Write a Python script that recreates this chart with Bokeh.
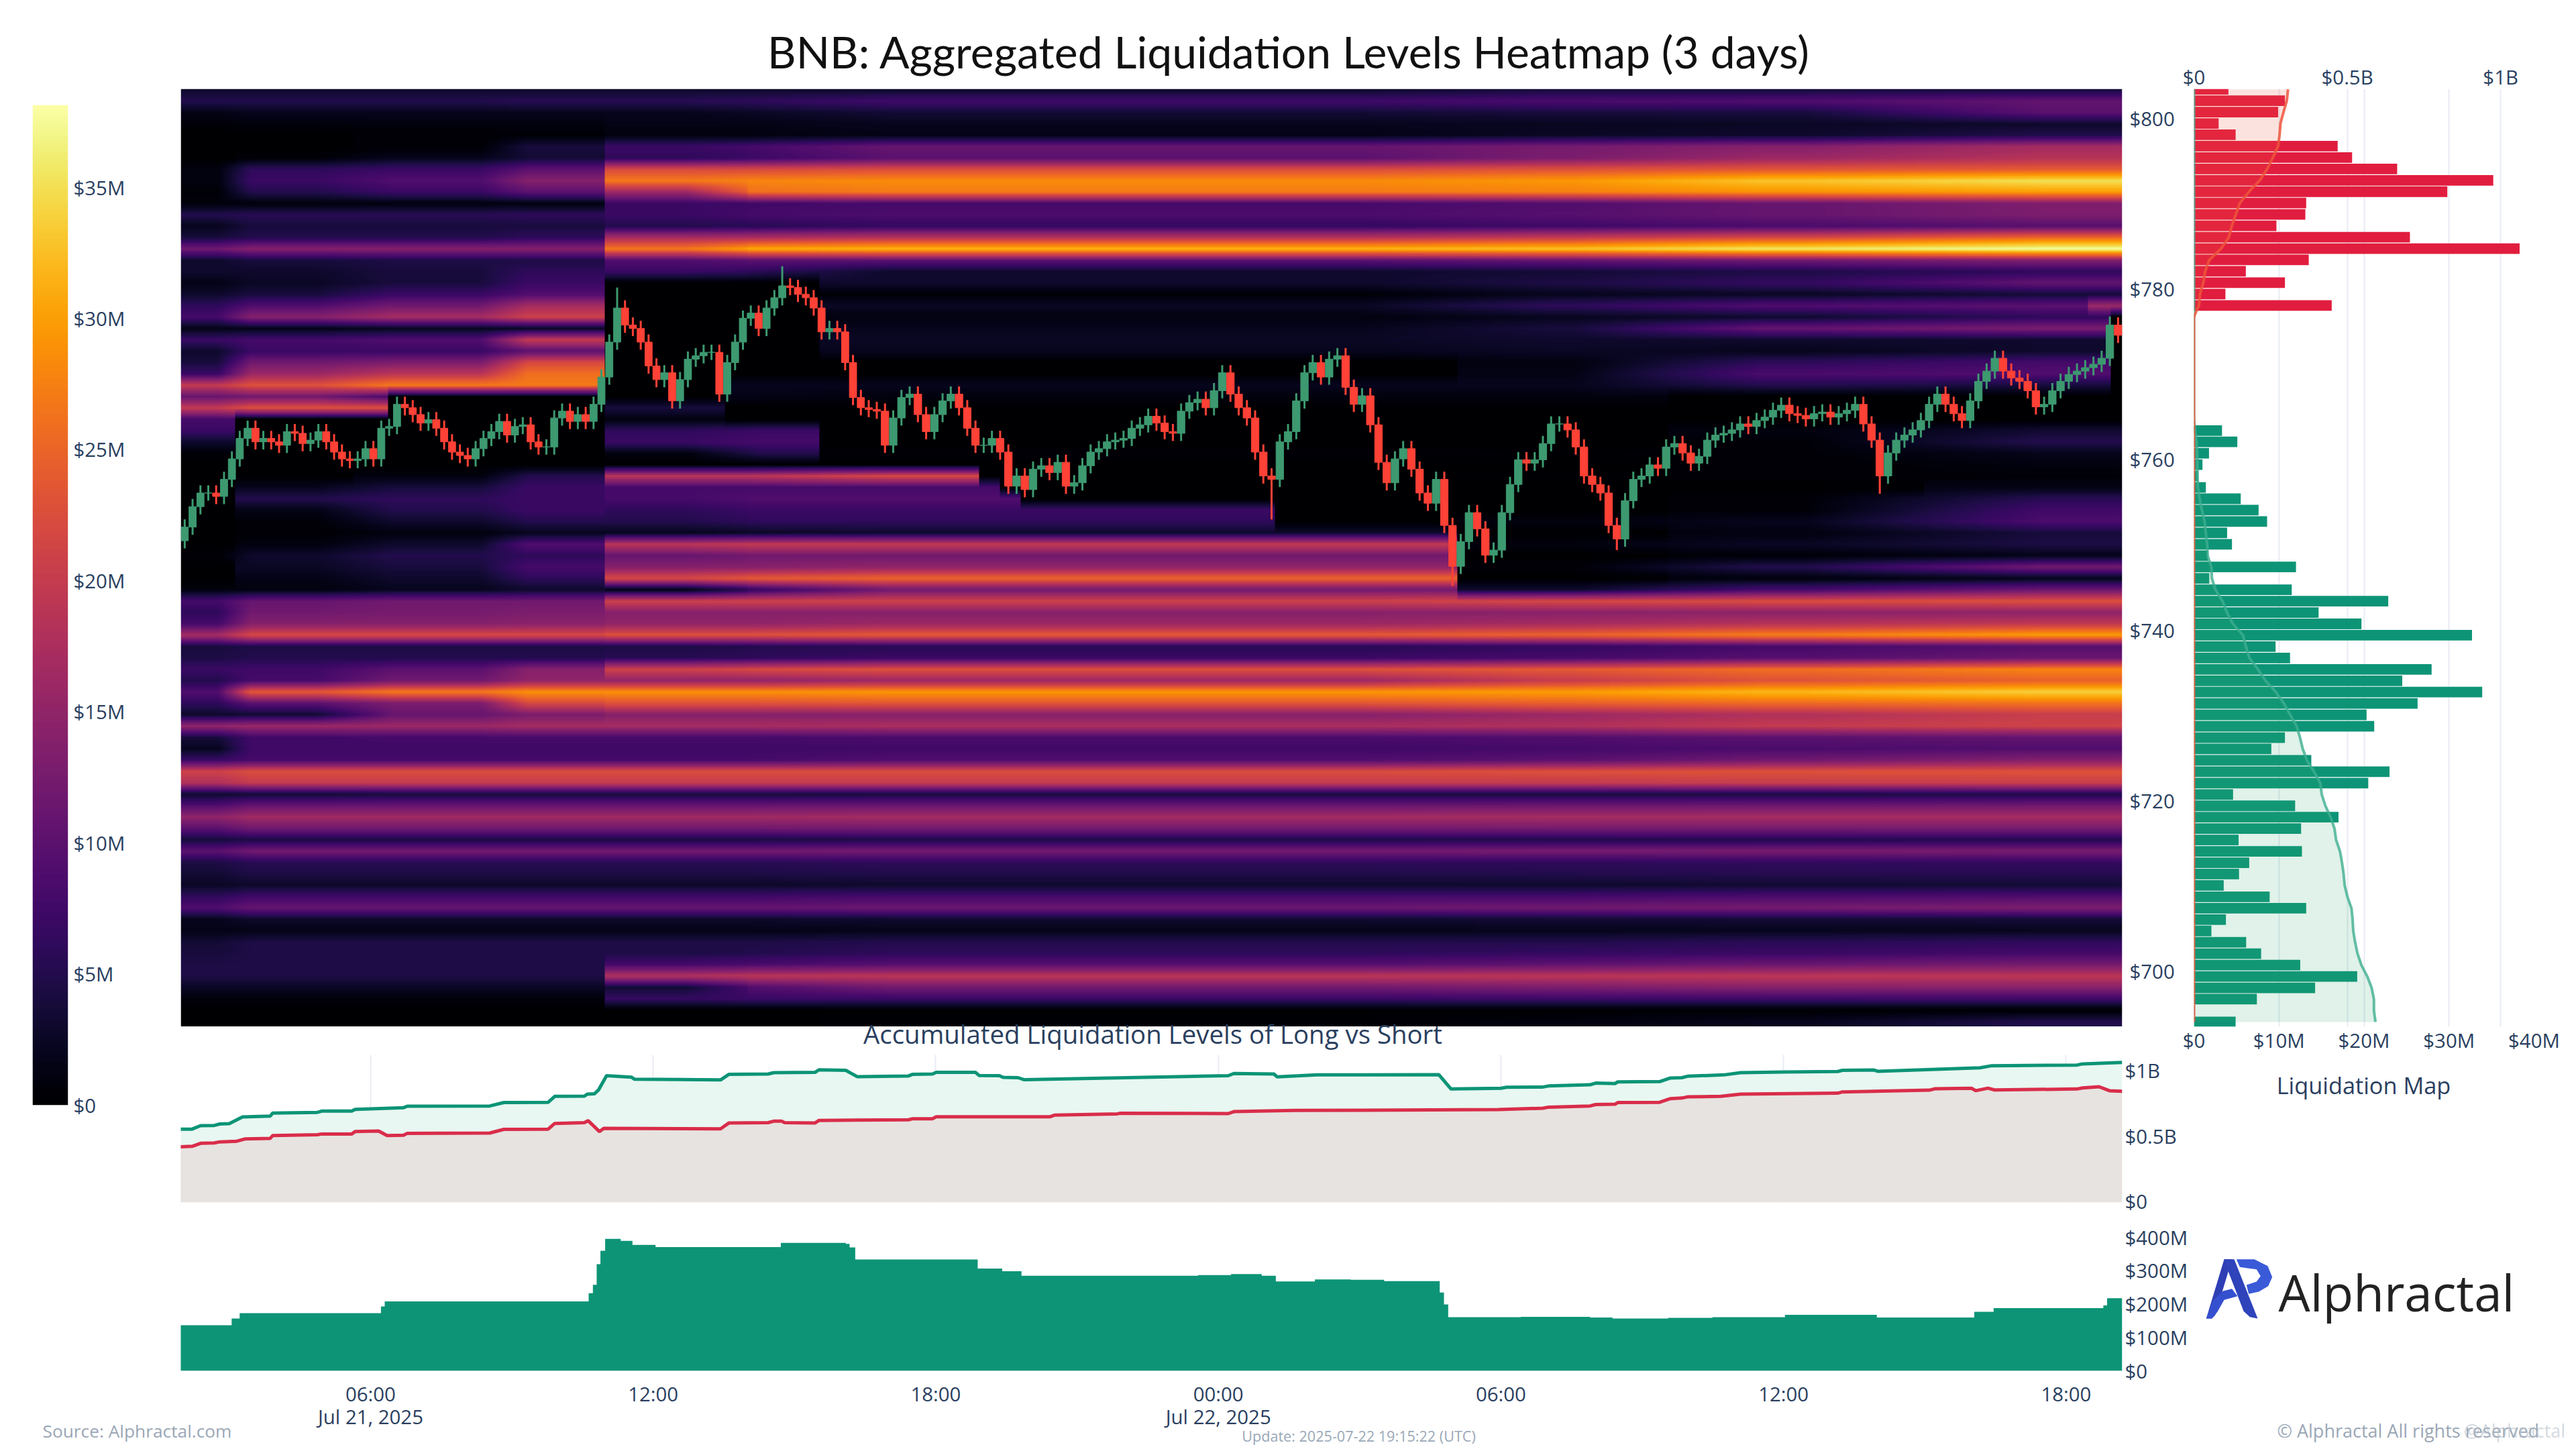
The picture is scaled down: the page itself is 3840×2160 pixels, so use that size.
import numpy as np
from bokeh.plotting import figure
from bokeh.layouts import row, column
from bokeh.models import Range1d, LinearColorMapper, FixedTicker, Label, LinearAxis, Grid, Spacer
from bokeh.palettes import Inferno256
from bokeh.embed import file_html
from bokeh.resources import INLINE

# ---------- data ----------
time_start, time_end = 1.97, 43.19          # hours after Jul 21 2025 00:00
price_low, price_high = 693.5, 803.5
bin_first, bin_step = 694.06, 1.334
z_max = 38.15

# heatmap: time column edges (hours)
col_edges = [1.97, 3.09, 5.64, 8.82, 10.96, 13.49, 15.5, 29.05, 33.55, 38.98, 43.19]
# gradual changes of the levels around these column edges: hour, half width
soft_edges = [(3.09, 0.35), (5.64, 0.8), (8.82, 0.5), (13.49, 0.8), (15.5, 1.5), (29.05, 2.0), (33.55, 2.0), (38.98, 2.5)]
# value in $M per column; first line = top price bin (82), last line = bottom bin (0)
heat_rows = [
 [3,3,3,3,3,3,3,4,4,4],
 [5,5,5,5.5,5.5,6,7.5,8.5,9,10.7],
 [1.5,2,2,2,2,2.5,3.5,4,4,9.9],
 [.5,.8,1,1,1.5,1.5,2,2.2,2.5,2.9],
 [0,0,.3,.5,1,1,1.5,2.5,3,4.9],
 [0,0,.3,4,7,8,11,12.5,14,16.9],
 [0,.5,2,3.5,6,7,10,13,16,18.6],
 [1,6,7,10,22,22,22.5,23,23.5,23.9],
 [1,7,9,14,27,28,28.5,29.5,33,35.2],
 [.5,5,7,10,16,26,27,27.5,29,29.8],
 [.8,.8,1,1,7,7.5,8,9,11,13.2],
 [5,5.5,5.5,6,7,8,8.5,9.5,11,13.1],
 [2,4,4,4,5,5.5,6.5,7.5,8.5,9.7],
 [4,5,5,6,17,17.5,18.5,20,22,25.4],
 [12,14,14,14,27,31,32,33,36,38.1],
 [3,4,4.5,4.5,9,10,10,11,12,13.5],
 [3,3,4,6,7,6,3,3.5,4.5,6.1],
 [1.5,2.5,4,7,0,0,3,4.5,6.5,10.7],
 [3,4,7,9,0,0,.5,2,2.5,3.7],
 [6,9,12,17,0,0,2.5,6,9,10],
 [8,14,17,21,0,0,1,2,3,6],
 [1.5,1.5,2,2,0,0,2,4,11,13],
 [7,8,9,20,0,0,2.5,3,3,3],
 [3,7,7,10,0,0,2,2.5,2,3],
 [4,12,13,22,0,0,0,1,6,8],
 [7,16,19,26,0,0,0,1.5,8.5,9],
 [20,23,27,27,0,2,2,2,5,4],
 [11,12,8,0,0,1.5,1,1,0,0],
 [20,23,23,0,4,0,0,0,0,0],
 [8,0,0,0,1,0,0,0,0,0],
 [7,0,0,0,6,7,0,0,1,3.3],
 [3,0,0,0,7,8,0,0,.5,5.1],
 [.5,0,0,0,1,5,.5,.3,.5,1.77],
 [0,0,0,0,0,0,0,0,.3,1],
 [0,0,1,5,19,19,22,.3,.4,.5],
 [0,2,4,7,8,8,8,0,0,1.4],
 [0,5,6,7,8,9,9,0,.5,5.5],
 [0,1.5,5,7,6,7,7,0,.5,7.6],
 [0,.5,3,5,5,6,6,1,2,8.6],
 [0,.3,1,2,2,2.5,3,0,1,3.9],
 [0,1,3,9,19,20,20,1,2.5,4.47],
 [.5,3,5,6,11,12,12,0,.5,1.64],
 [0,2.5,4,8,14,14,15,.5,5,12],
 [0,1.5,3,6,22,24,25,0,.8,1.8],
 [1,1,2,3,1,6,12,3,8,11.5],
 [8,11,12,12,21,21,21,22,22.5,22.85],
 [6,12,12.5,13,14,14,14,14.3,14.5,14.66],
 [8,14,14,14.5,15,15,16,17,18.5,19.7],
 [17,22,22,22,23,23,24,25,27.5,30],
 [4,4.5,4.5,4.5,4.5,5,5.5,6.5,8,9.6],
 [4.5,5,5,5,5.5,6,7,8,9.5,11.3],
 [7,7.5,10,14,21,22,23,24,26,27.95],
 [5,8,12,15,15,15,16,20,23,24.5],
 [9,24,27,29,29,29,29.5,30,32,33.9],
 [6,10,13,22,23,23,23.5,24.5,25.5,26.3],
 [3,3.5,11,13,14,14,14,16,18,20.3],
 [15,16,16,17,17,17,17.5,18,20,21.2],
 [4,7.5,8,8,8,8,8.5,9,10,10.7],
 [2,7.5,7.5,7.5,7.5,7.5,7.5,8,8.5,9.1],
 [7,8,8,8,8,8,9,10,12,13.8],
 [21,22.5,22.5,22.5,22.5,22.5,22.5,22.8,23,23],
 [18,20,20,20,20,20,20,20,20.3,20.5],
 [3,3.5,4,4,4,4,4,4,4.3,4.6],
 [9,11,11,11,11,11,11.3,11.5,11.7,11.9],
 [15,16.5,16.5,16.5,16.5,16.5,16.8,17,17,17],
 [10,12,12,12,12,12,12.3,12.5,12.6,12.6],
 [4,4.5,4.5,4.5,4.5,4.5,4.8,5,5,5.25],
 [10,12,12,12,12,12,12.3,12.5,12.6,12.7],
 [4.5,5.5,5.5,5.5,5.5,5.5,6,6,6.3,6.5],
 [3.5,4.5,4.5,4.5,4.5,4.5,4.8,5,5.2,5.3],
 [2.5,2.8,2.8,2.8,2.8,2.8,3,3,3.3,3.5],
 [6,7.5,7.5,7.5,7.5,7.5,8,8,8.5,8.9],
 [9,11,11,11,11,11,11.5,12,12.5,13.2],
 [2,3,3,3,3,3,3.2,3.5,3.5,3.76],
 [1.5,1.5,1.5,1.5,1.5,1.5,1.7,1.8,2,2.05],
 [3.5,4.5,4.5,4.5,4.5,4.5,5,5,5.5,6.14],
 [4,4.5,4.5,4.5,4.5,5,6,6.5,7,7.9],
 [4.5,4.5,4.5,4.5,8,8.5,9.5,10.5,11.5,12.5],
 [4.5,4.5,4.5,4.5,18,19,19,19,19.2,19.2],
 [2.5,2.5,2.5,2.5,3.5,9,12,13,14,14.25],
 [.8,.8,.8,.8,6.5,7,7,7.2,7.3,7.4],
 [0,0,0,0,0,0,.1,.1,.1,.1],
 [0,0,0,0,0,0,.3,1,2,4.9],
]
# rectangles that differ from the table: low bin, high bin, from hour, to hour, value
heat_blocks = [
 (54,55,6.34,8.82,0),(48,48,18.89,29.05,0),(47,47,19.36,29.05,0),(46,46,19.79,29.05,0),
 (44,45,25.2,29.05,0),(53,62,42.94,43.19,0),(63,63,42.47,43.19,16.2),
]

# candles: closes by stretch of time
close_a = [752.1,754.5,756.1,756.1,755.7,757.7,760.1,762.5,763.7,762.1,762.5,762.1,761.7,763.3,763.1,761.9,762.3,763.3,762.1,760.9,
 760.1,759.9,760.1,761.3,760.1,763.7,763.9,766.5,766.1,765.3,764.3,764.7,763.7,762.1,760.9,760.5,760.1,761.3,762.5,763.3,
 764.5,762.9,763.9,764.1,762.1,761.5,761.5,764.9,765.7,764.5,765.3,764.5,766.5,769.7,773.8,777.8,775.8,775.4,773.8,771,
 769.4,770.2,766.9,769.4,771.8,772.2,772.6,772.6,767.7,771.4,773.8,776.6,777.2,775.4,777.8,779,780.4,780.2,779.4,779,
 777.8,775,775.4,775,771.4,767.3,766.1,765.9]
close_b = [765.7,761.7,764.9,767.3,767.7,765.3,763.3,765.3,766.9,767.7,766.1,763.7,761.7,761.7,762.5,760.9,756.9,758.1,756.5,758.9,
 759.3,758.5,759.7,756.9,757.3,759.3,760.9,761.3,762.1,762.3,762.5,763.7,764.1,765.1,764.3,763.3,763.1,765.7,766.7,767.1,
 766.1,768.1,770.2,767.7,766.1,764.9,760.9,758.1,757.7,762.1,763.3,766.9,770.2,771.4,769.7,771.8,772.2,768.5,766.5,767.5,
 764.1,759.7,757.3,760.1,761.3,758.9,756.1,754.9,757.7]
close_c = [752.3,747.5,750.4,753.8,751.9,748.8,749.4,753.8,757.1,760,759.6,760,761.9,764.2,764.2,763.5,761.5,758.1,757.1,756.1,
 752.3,750.7,755.2,757.7,758.1,759.4,759,761.5,761.9,760.8,759.6,760.4,762.3,762.9,763.1,763.5,764.2,763.9,764.6,765,
 765.8,766.4,765.4,765.2,764.8,765.4,765.6,765,765.4,765.8,766.5,764.2,762.3,758.1,760.8,762.3,762.9,763.5,764.6,766.5,
 767.7,766.5,765.4,764.6,766.9,769.2,770.4,771.9,770.4,769.6,769.2,768.1,766.2,766.5,768.1,769.2,770,770.4,770.8,771.2,
 771.9,775.8,774.6]
open_first = 750.5
stretch_edges = [1.97, 16.66, 28.71, 43.19]
wick_default = 0.9
high_a, high_c = {76: 782.7, 55: 780.2}, {81: 776.8}
low_b, low_c = {48: 753.0}, {1: 745.2, 21: 749.4, 53: 756.0}

# liquidation map bars ($M), top to bottom
short_bars = [4.05,10.7,9.9,2.9,4.9,16.9,18.6,23.9,35.2,29.8,13.2,13.1,9.7,25.4,38.3,13.5,6.1,10.7,3.7,16.2]
long_bars = [3.3,5.1,1.77,1.0,.5,1.4,5.5,7.6,8.6,3.9,4.47,1.64,12,1.8,11.5,22.85,14.66,19.7,32.7,9.6,
 11.3,27.95,24.5,33.9,26.3,20.3,21.2,10.7,9.1,13.8,23,20.5,4.6,11.9,17,12.6,5.25,12.7,6.5,5.3,
 3.5,8.9,13.2,3.76,2.05,6.14,7.9,12.5,19.2,14.25,7.4,.1,4.9]
# running totals ($B), top to bottom
short_total = [.30675,.3027,.292,.2821,.2792,.2743,.2574,.2388,.2149,.1797,.1499,.1367,.1236,.1139,.0885,.0502,.0367,.0306,.0199,.0162]
long_total = [.0033,.0084,.01017,.01117,.01167,.01307,.01857,.02617,.03477,.03867,.04314,.04478,.05678,.05858,.07008,.09293,.1076,.1273,.16,.1696,
 .1809,.20885,.23335,.26725,.29355,.31385,.33505,.34575,.35485,.36865,.39165,.41215,.41675,.42865,.44565,.45825,.4635,.4762,.4827,.488,
 .4915,.5004,.5136,.51736,.51941,.52555,.53345,.54595,.56515,.5794,.5868,.5869,.5918]

# accumulated long / short ($B)
long_h = [1.96,2.21,2.39,2.68,2.80,3.0,3.28,3.87,3.92,4.87,4.96,5.60,5.67,6.70,6.78,8.53,8.83,9.77,9.91,10.54,10.6,10.75,10.84,11.01,11.54,11.60,13.43,13.61,14.44,14.56,15.44,15.52,16.09,16.33,
 17.42,17.51,17.93,18.01,18.84,18.92,19.35,19.43,19.75,19.87,23.80,24.21,24.33,25.18,25.25,26.10,28.68,28.94,30.0,30.12,30.89,31.01,31.89,32.01,32.42,32.48,33.37,33.60,33.84,33.96,34.73,
 35.09,36.03,37.15,37.25,37.92,38.0,40.17,40.40,42.23,42.35,43.19]
long_v = [.558,.558,.584,.586,.597,.599,.650,.657,.680,.685,.695,.695,.708,.721,.732,.734,.760,.762,.807,.809,.824,.826,.856,.964,.953,.938,.932,.975,.977,.987,.990,1.009,1.005,.957,
 .962,.975,.977,.990,.990,.966,.964,.951,.949,.934,.962,.964,.981,.977,.955,.970,.972,.863,.869,.876,.878,.886,.895,.908,.904,.917,.919,.947,.949,.960,.970,
 .987,.992,.996,1.005,1.007,.998,1.024,1.039,1.045,1.054,1.065]
short_h = [1.96,2.21,2.39,2.68,2.80,3.16,3.33,3.87,3.92,4.87,4.96,5.60,5.67,6.17,6.35,6.70,6.78,8.53,8.83,9.77,9.91,10.54,10.62,10.86,10.95,13.43,13.61,14.44,14.56,14.73,14.79,15.44,15.52,
 17.42,17.51,17.93,18.01,20.43,20.53,21.85,21.91,24.21,24.33,25.63,29.94,30.89,31.01,31.89,32.01,32.42,32.48,33.37,33.60,33.84,33.96,34.67,
 35.09,37.15,37.25,39.10,39.22,39.99,40.08,40.34,40.48,42.23,42.35,42.70,42.92,43.19]
short_v = [.423,.427,.450,.453,.461,.466,.483,.487,.509,.515,.521,.521,.539,.543,.509,.511,.526,.528,.556,.558,.601,.607,.622,.539,.564,.560,.605,.607,.618,.618,.607,.605,.624,
 .629,.637,.637,.652,.652,.665,.674,.678,.676,.691,.700,.706,.717,.725,.734,.745,.747,.760,.762,.790,.794,.803,.807,
 .824,.831,.841,.854,.865,.869,.850,.869,.856,.863,.871,.880,.850,.846]

# long minus short ($M), stepped
gap_edges = [1.96,3.05,3.22,6.22,6.30,10.63,10.72,10.80,10.88,10.98,11.31,11.56,12.05,14.71,16.09,16.17,16.29,18.89,19.41,19.82,23.57,24.27,24.92,25.22,26.05,26.81,27.52,28.70,28.79,28.88,30.42,31.89,32.37,33.55,34.49,36.03,37.98,40.05,40.46,42.79,42.87,43.19]
gap_vals = [137,157,173,193,208,233,258,320,360,396,390,378,371,384,381,370,334,307,299,285,287,290,285,268,274,273,269,235,199,161,162,160,157,159,161,168,160,177,188,196,218]

# axis labels
time_ticks = {6:"06:00\nJul 21, 2025",12:"12:00",18:"18:00",24:"00:00\nJul 22, 2025",30:"06:00",36:"12:00",42:"18:00"}
price_ticks = {700:"$700",720:"$720",740:"$740",760:"$760",780:"$780",800:"$800"}
scale_ticks = {0:"$0",5:"$5M",10:"$10M",15:"$15M",20:"$20M",25:"$25M",30:"$30M",35:"$35M"}
map_ticks = {0:"$0",10:"$10M",20:"$20M",30:"$30M",40:"$40M"}
total_ticks = {0:"$0",0.5:"$0.5B",1:"$1B"}
acc_ticks = {0:"$0",0.5:"$0.5B",1:"$1B"}
gap_ticks = {0:"$0",100:"$100M",200:"$200M",300:"$300M",400:"$400M"}

INK = "#2a3f5f"; FONT = "Open Sans"; GRID = "#e8ebf2"
GREEN = "#0d9477"; CRIMSON = "#e11d3f"

def style_axis(ax, ticks, standoff=8, size="29.4px"):
    ax.ticker = FixedTicker(ticks=list(ticks))
    ax.major_label_overrides = dict(ticks)
    ax.major_tick_line_color = None
    ax.minor_tick_line_color = None
    ax.axis_line_color = None
    ax.major_label_text_color = INK
    ax.major_label_text_font = FONT
    ax.major_label_text_font_size = size
    ax.major_label_standoff = standoff

def blank(width, height, x_range, y_range, left=0, right=0, top=0, bottom=0, **kw):
    p = figure(width=width, height=height, x_range=x_range, y_range=y_range,
               min_border_left=left, min_border_right=right, min_border_top=top, min_border_bottom=bottom,
               output_backend="svg", toolbar_location=None, outline_line_color=None,
               border_fill_color=None, background_fill_color=None, **kw)
    p.xgrid.visible = False
    p.ygrid.visible = False
    return p

def note(p, x, y, text, size, color=INK, align="left", font=FONT, alpha=1.0):
    p.add_layout(Label(x=x, y=y, text=text, text_font=font, text_font_size=size, text_color=color,
                       text_align=align, text_baseline="middle", text_alpha=alpha))

mapper = LinearColorMapper(palette=Inferno256, low=0, high=z_max)

# ---------- colour scale ----------
cb = blank(269, 2160, Range1d(0, 1), Range1d(0, z_max), left=48, right=168, top=156, bottom=513, y_axis_location="right")
cb.xaxis.visible = False
cb.image(image=[np.linspace(0, z_max, 512).reshape(-1, 1)], x=0, y=0, dw=1, dh=z_max, color_mapper=mapper)
style_axis(cb.yaxis[0], scale_ticks, standoff=2)

# ---------- heatmap ----------
times = np.arange(time_start, time_end, 0.04)
bin_prices = bin_first + bin_step * np.arange(len(heat_rows))
table = np.array(heat_rows[::-1], dtype=float)            # bin 0 first
cols = np.clip(np.searchsorted(col_edges, times, side="right") - 1, 0, table.shape[1] - 1)
cells = table[:, cols]
for h, half in soft_edges:
    c = col_edges.index(h)
    near = np.abs(times - h) <= half
    both = (table[:, c - 1] > 0) & (table[:, c] >= 0.5 * table[:, c - 1])
    frac = (times[near] - (h - half)) / (2 * half)
    cells[np.ix_(both, near)] = np.outer(table[both, c - 1], 1 - frac) + np.outer(table[both, c], frac)
for k0, k1, h0, h1, v in heat_blocks:
    cells[k0:k1 + 1, (times >= h0) & (times <= h1)] = v
fine_prices = np.linspace(price_low, price_high, 900)
smooth = np.vstack([np.interp(fine_prices, bin_prices, cells[:, j]) for j in range(cells.shape[1])]).T

heat = blank(3001, 1530, Range1d(time_start, time_end), Range1d(price_low, price_high),
             right=107, top=132, y_axis_location="right")
heat.xaxis.visible = False
heat.image(image=[smooth], x=time_start, y=price_low, dw=time_end - time_start, dh=price_high - price_low,
           color_mapper=mapper)
style_axis(heat.yaxis[0], price_ticks, standoff=5)

hours, closes, opens, highs, lows, steps = [], [], [], [], [], []
prev = open_first
stretches = [(close_a, high_a, {}), (close_b, {}, low_b), (close_c, high_c, low_c)]
for i, (cl, hi, lo) in enumerate(stretches):
    span = (stretch_edges[i + 1] - stretch_edges[i]) / len(cl)
    for j, c in enumerate(cl):
        hours.append(stretch_edges[i] + (j + 0.5) * span)
        steps.append(span * 0.92)
        opens.append(prev); closes.append(c)
        highs.append(hi.get(j, max(prev, c) + wick_default))
        lows.append(lo.get(j, min(prev, c) - wick_default))
        prev = c
hours, opens, closes, highs, lows = map(np.array, (hours, opens, closes, highs, lows))
ccol = np.where(closes >= opens, "#3d9970", "#ff4136")
heat.segment(hours, lows, hours, highs, color=ccol, line_width=3)
heat.vbar(x=hours, width=steps, bottom=np.minimum(opens, closes), top=np.maximum(opens, closes),
          fill_color=ccol, line_color=ccol, line_width=1)

# ---------- accumulated levels ----------
acc = blank(3001, 280, Range1d(time_start, time_end), Range1d(0, 1.1224), right=107, top=42, bottom=18, y_axis_location="right")
acc.xaxis.visible = False
acc.add_layout(Grid(dimension=0, ticker=FixedTicker(ticks=list(time_ticks)), grid_line_color=GRID, grid_line_width=2))
acc.varea(x=long_h, y1=0, y2=long_v, fill_color="#e8f7f1")
acc.varea(x=short_h, y1=0, y2=short_v, fill_color="#e7e3e0")
acc.line(long_h, long_v, line_color=GREEN, line_width=5)
acc.line(short_h, short_v, line_color="#d92d4a", line_width=5)
style_axis(acc.yaxis[0], acc_ticks, standoff=-2)

# ---------- long minus short ----------
gap = blank(3001, 350, Range1d(time_start, time_end), Range1d(0, 468.8), right=107, bottom=117, y_axis_location="right")
gap.varea(x=np.repeat(gap_edges, 2)[1:-1], y1=0, y2=np.repeat(gap_vals, 2), fill_color=GREEN)
style_axis(gap.yaxis[0], gap_ticks, standoff=-2)
style_axis(gap.xaxis[0], time_ticks, standoff=8)
gap.xaxis[0].major_label_text_line_height = 0.86

# ---------- liquidation map ----------
lm = blank(630, 1680, Range1d(0, 40), Range1d(price_low, price_high), left=30, right=63, top=132, bottom=150, margin=(0, 0, 0, -30))
lm.extra_x_ranges = {"total": Range1d(0, 1.109)}
lm.add_layout(Grid(dimension=0, ticker=FixedTicker(ticks=[10, 20, 30]), grid_line_color=GRID, grid_line_width=2))
lm.add_layout(Grid(dimension=0, x_range_name="total", ticker=FixedTicker(ticks=[0.5, 1]), grid_line_color=GRID, grid_line_width=2))
short_rev, long_rev = short_bars[::-1], long_bars[::-1]
n_long, n_short = len(long_rev), len(short_rev)
lm.hbar(y=bin_prices[:n_long], left=0, right=long_rev, height=bin_step * 0.93, fill_color=GREEN, line_color=None)
lm.hbar(y=bin_prices[-n_short:], left=0, right=short_rev, height=bin_step * 0.93, fill_color=CRIMSON, line_color=None)
long_curve = np.zeros(len(bin_prices)); short_curve = np.zeros(len(bin_prices))
long_curve[:n_long] = long_total[::-1]
short_curve[-n_short:] = short_total[::-1]
lm.harea(y=bin_prices, x1=0, x2=long_curve, fill_color="#2ca86e", fill_alpha=0.15, x_range_name="total")
lm.harea(y=bin_prices, x1=0, x2=short_curve, fill_color="#ef553b", fill_alpha=0.17, x_range_name="total")
lm.line(long_curve, bin_prices, line_color="#3fae90", line_width=4, line_alpha=0.8, x_range_name="total")
lm.line(short_curve, bin_prices, line_color="#ef553b", line_width=4, line_alpha=0.85, x_range_name="total")
style_axis(lm.xaxis[0], map_ticks, standoff=-6)
top_axis = LinearAxis(x_range_name="total")
style_axis(top_axis, total_ticks, standoff=-8)
lm.add_layout(top_axis, "above")
lm.yaxis.visible = False

# ---------- page furniture, in page pixels, over everything ----------
deck = blank(3840, 2160, Range1d(0, 3840), Range1d(2160, 0), margin=(-2160, 0, 0, 0))
deck.xaxis.visible = False; deck.yaxis.visible = False
ox, oy, s = 3270, 1860, 1 / 3
shapes = [
 ("#2e3fb5", [(135,50),(170,50),(95,300),(80,315),(55,315)]),
 ("#3550cf", [(85,235),(130,192),(170,182),(195,215),(135,232),(105,285),(80,315),(55,315)]),
 ("#2f43ba", [(135,50),(180,50),(285,315),(250,308),(222,282),(150,95)]),
 ("#3a5ad8", [(190,50),(270,50),(330,80),(350,130),(332,170),(290,195),(245,205),(235,165),(280,150),(298,125),(280,95),(240,90),(205,85)]),
]
for colr, pts in shapes:
    deck.patch([ox + a * s for a, b in pts], [oy + b * s for a, b in pts], fill_color=colr, line_color=None)
note(deck, 1921, 76, "BNB: Aggregated Liquidation Levels Heatmap (3 days)", "66px", color="#111111", align="center", font="Lato")
note(deck, 1718, 1540, "Accumulated Liquidation Levels of Long vs Short", "38.4px", align="center")
note(deck, 3523, 1617, "Liquidation Map", "34.3px", align="center")
note(deck, 63, 2132, "Source: Alphractal.com", "26.3px", color="#9aa7b6")
note(deck, 2025, 2140, "Update: 2025-07-22 19:15:22 (UTC)", "21.6px", color="#9aa7b6", align="center")
note(deck, 3396, 1925, "Alphractal", "74.6px", color="#222222")
note(deck, 3394, 2132, "© Alphractal All rights reserved", "27px", color="#9aa7b6")
note(deck, 3672, 2132, "@Alphractal", "27px", color="#b8c0ca", alpha=0.6)

page = column(row(cb, column(heat, acc, gap), column(lm, Spacer(width=570, height=480))), deck)
open("out.html", "w").write(file_html(page, INLINE))
